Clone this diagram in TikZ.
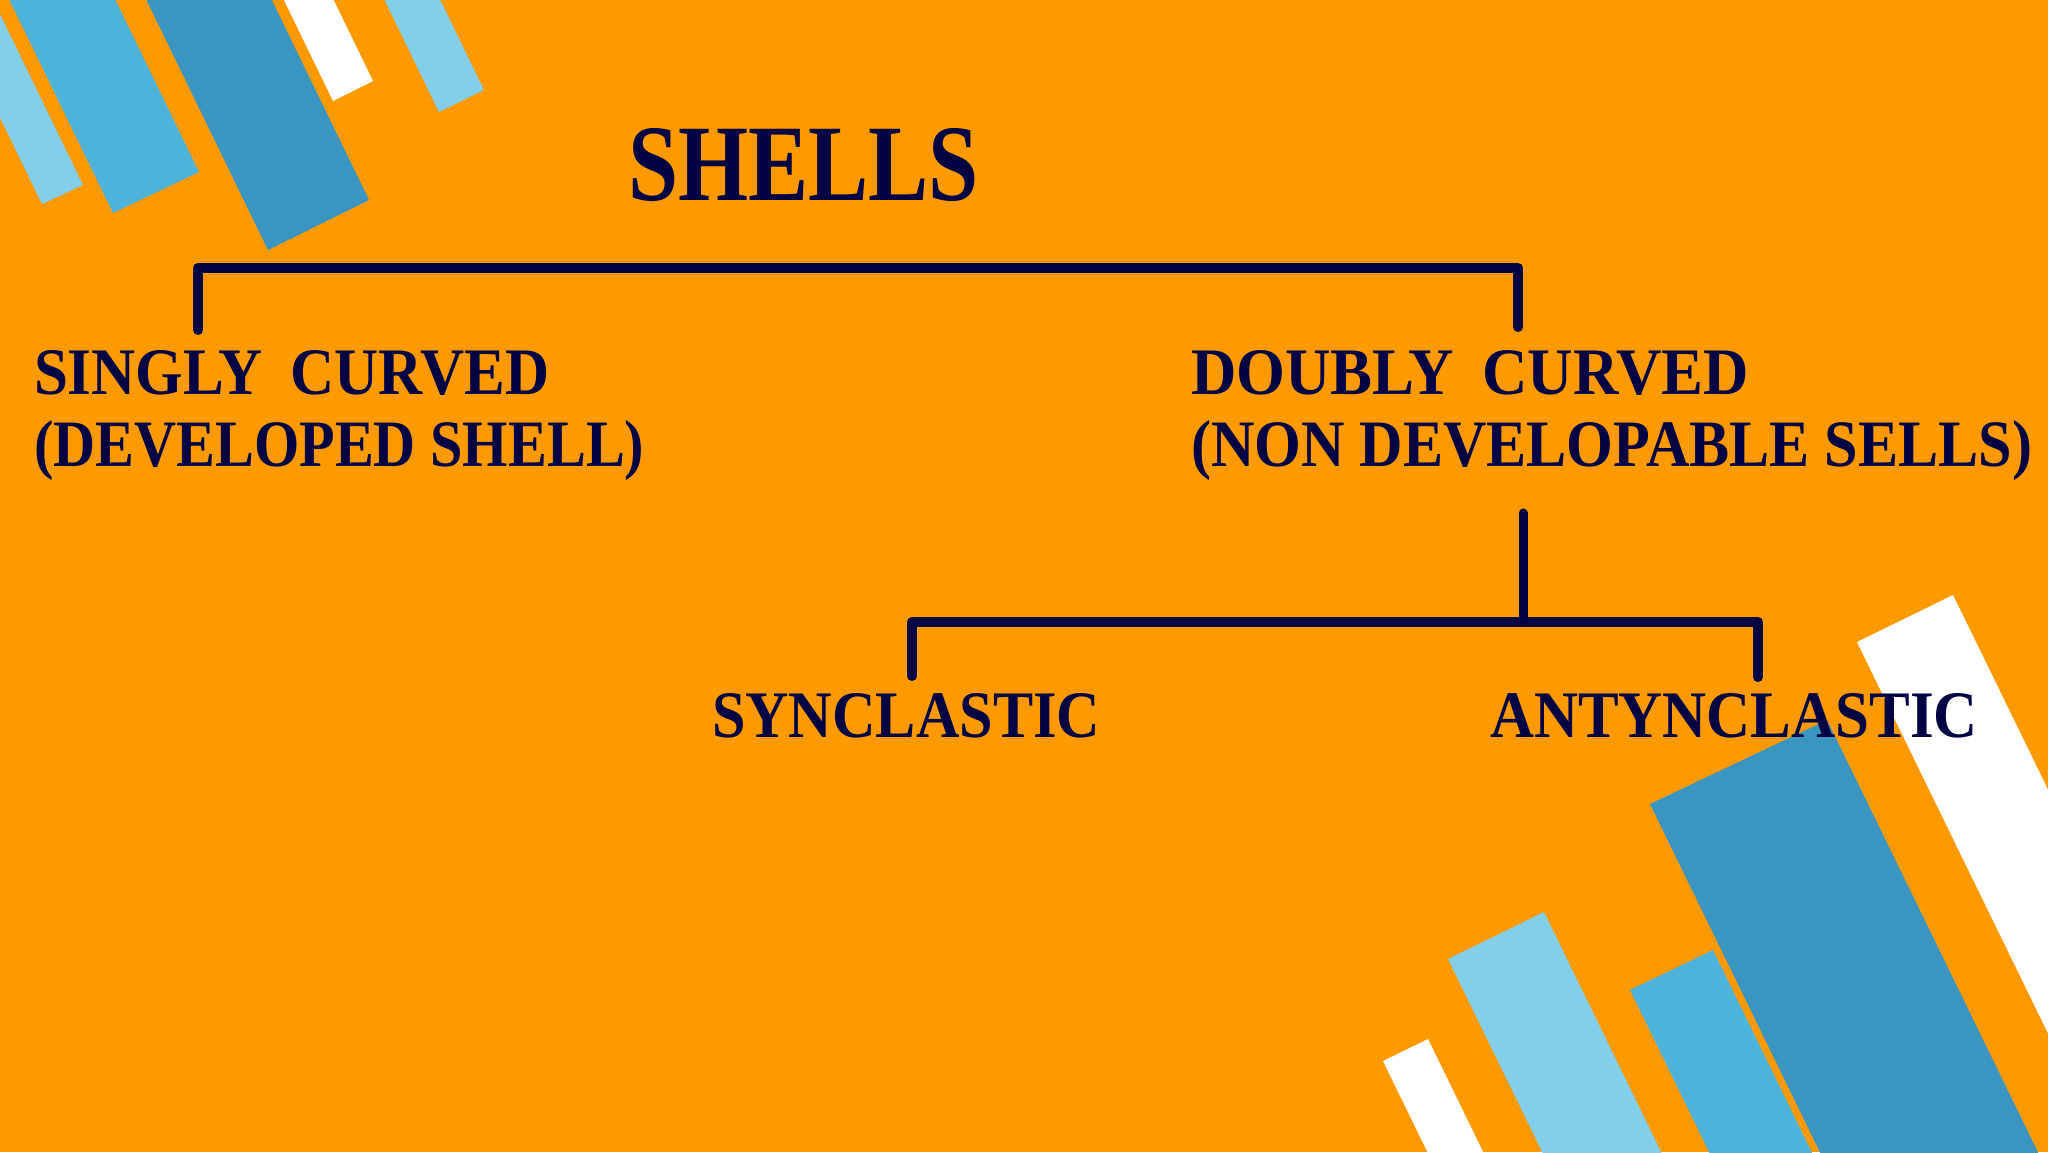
\documentclass[tikz,border=0pt]{standalone}
\usepackage{fontspec}
\setmainfont{Liberation Serif}
\usepackage{graphicx}
\definecolor{bgorange}{HTML}{FF9900}
\definecolor{navy}{RGB}{3,3,68}
\definecolor{lightblue}{HTML}{82CEEB}
\definecolor{midblue}{HTML}{4DB3DA}
\definecolor{darkblue}{HTML}{3A96C0}
\begin{document}
\begin{tikzpicture}[x=1pt,y=-1pt,
  lbl/.style={inner sep=0pt, outer sep=0pt, anchor=base west, text=navy, font=\bfseries},
  bracket/.style={draw=navy, line width=10pt, line cap=round, line join=round}]
\useasboundingbox (0,0) rectangle (2048,1152);
\fill[bgorange] (0,0) rectangle (2048,1152);
\begin{scope}
\clip (0,0) rectangle (2048,1152);
% top-left stripes
\fill[lightblue] (42,204) -- (83,185) -- ++(-175,-360) -- ++(-41,19) -- cycle;
\fill[midblue] (113,213) -- (199,172) -- ++(-175,-360) -- ++(-86,41) -- cycle;
\fill[darkblue] (268,250) -- (369,200) -- ++(-175,-360) -- ++(-101,50) -- cycle;
\fill[white] (333,101) -- (373,81) -- ++(-175,-360) -- ++(-40,20) -- cycle;
\fill[lightblue] (439,112) -- (484,90) -- ++(-175,-360) -- ++(-45,22) -- cycle;
% bottom-right stripes
\fill[white] (1383,1061) -- (1428,1039) -- ++(307,629) -- ++(-45,22) -- cycle;
\fill[lightblue] (1448,959) -- (1544,912) -- ++(307,629) -- ++(-96,47) -- cycle;
\fill[midblue] (1630,990) -- (1713,950) -- ++(307,629) -- ++(-83,40) -- cycle;
\fill[darkblue] (1650,804) -- (1827,720) -- ++(307,629) -- ++(-177,84) -- cycle;
\fill[white] (1857,642) -- (1953,595) -- ++(307,629) -- ++(-96,47) -- cycle;
\end{scope}
% texts
\node[lbl] (shells) at (628,200) {\resizebox{351pt}{72pt}{SHELLS}};
\node[lbl] (singly) at (34,394) {\resizebox{515pt}{44pt}{SINGLY\hspace{0.45em}CURVED}};
\node[lbl] (singlysub) at (34,466) {\resizebox{610pt}{46pt}{(DEVELOPED SHELL)}};
\node[lbl] (doubly) at (1191,394) {\resizebox{558pt}{44pt}{DOUBLY\hspace{0.45em}CURVED}};
\node[lbl] (doublysub) at (1191,466) {\resizebox{841pt}{46pt}{(NON DEVELOPABLE SELLS)}};
\node[lbl] (syn) at (712,737) {\resizebox{388pt}{44pt}{SYNCLASTIC}};
\node[lbl] (anti) at (1490,737) {\resizebox{488pt}{44pt}{ANTYNCLASTIC}};
% bracket coordinates
\coordinate (s1) at (198,330);
\coordinate (c1) at (198,268);
\coordinate (c2) at (1518,268);
\coordinate (d1) at (1518,327);
\coordinate (stemtop) at (1523,513);
\coordinate (stembot) at (1523,622);
\coordinate (sy1) at (912,676);
\coordinate (k1) at (912,622);
\coordinate (k2) at (1758,622);
\coordinate (an1) at (1758,677);
% connectors
\draw[bracket] (s1) -- (c1) -- (c2) -- (d1);
\draw[bracket, line width=9pt] (stemtop) -- (stembot);
\draw[bracket] (sy1) -- (k1) -- (k2) -- (an1);
\end{tikzpicture}
\end{document}
